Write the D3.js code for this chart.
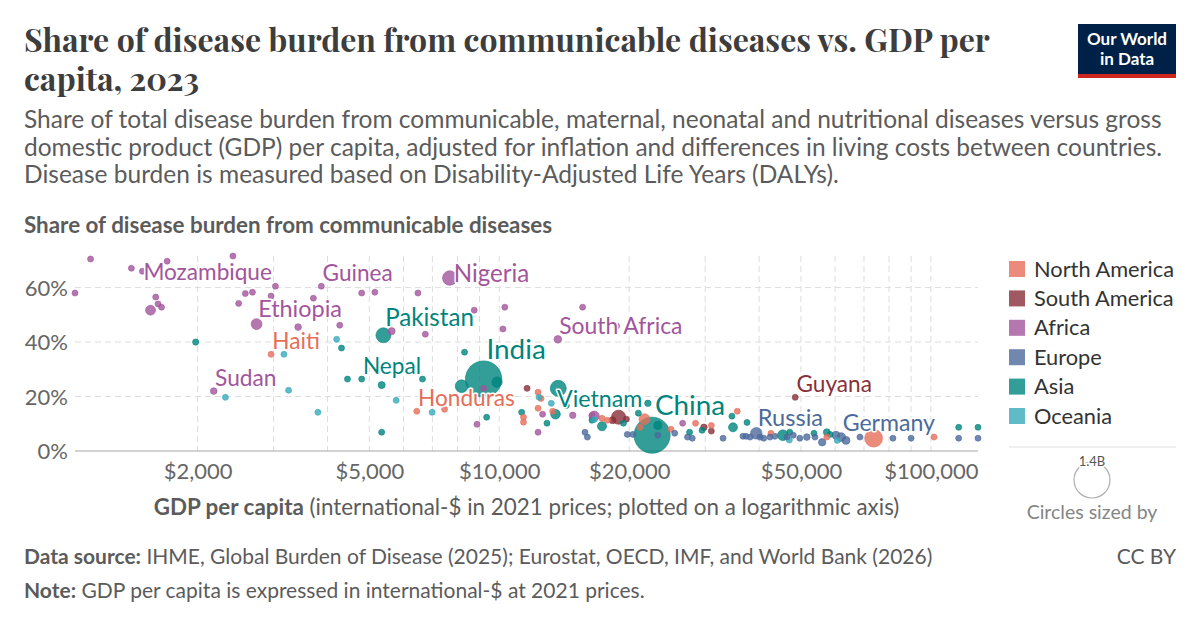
<!DOCTYPE html>
<html>
<head>
<meta charset="utf-8">
<script src="https://cdn.jsdelivr.net/npm/d3@7"></script>
<style>
  body { margin: 0; background: #fff; }
  svg { display: block; font-family: Lato, "Noto Sans", sans-serif; }
</style>
</head>
<body>
<svg width="1200" height="627"></svg>
<script>
// ---- data ----
var countries = ["Burundi","Central African Republic","Somalia","Mozambique","Niger","Chad","Madagascar","Democratic Republic of Congo","Malawi","Liberia",
  "Mali","Sierra Leone","Burkina Faso","Gambia","Guinea-Bissau","Ethiopia","Uganda","Afghanistan","Haiti","Solomon Islands",
  "Sudan","Kiribati","Vanuatu","Guinea","Togo","Benin","Cameroon","Zambia","Nigeria","Angola",
  "Cote d'Ivoire","Mauritania","Rwanda","Papua New Guinea","Yemen","Pakistan","Kenya","Senegal","East Timor","Tajikistan",
  "Nepal","Myanmar","Laos","Samoa","Micronesia","Honduras","Tonga","Nicaragua","Kyrgyzstan","Bangladesh",
  "India","Philippines","Ghana","Bolivia","Guatemala","Fiji","El Salvador","Cambodia","Belize","Jamaica",
  "Uzbekistan","Morocco","Tunisia","Gabon","South Africa","Botswana","Indonesia","Nauru","Dominica","Vietnam",
  "Namibia","Algeria","Mongolia","Cuba","Bhutan","Libya","Egypt","Marshall Islands","Sri Lanka","Saint Vincent and the Grenadines",
  "Iran","Ukraine","Moldova","Saint Lucia","Brazil","Colombia","Ecuador","Lebanon","Albania","Bosnia and Herzegovina",
  "Maldives","Mexico","Dominican Republic","China","Serbia","Thailand","Iraq","North Macedonia","Mauritius","Costa Rica",
  "Montenegro","Belarus","Barbados","Argentina","Antigua and Barbuda","Chile","Bulgaria","Turkmenistan","Trinidad and Tobago","Turkey",
  "Malaysia","Romania","Greece","Russia","Hungary","Croatia","Panama","Guyana","Japan","Kazakhstan",
  "Portugal","Spain","Israel","Italy","South Korea","Bahamas","United Kingdom","Australia","Germany","France",
  "Netherlands","United States","Denmark","Switzerland","Bermuda","Qatar","Norway","Singapore","Ireland","Latvia",
  "Poland","Estonia","Slovakia","Czechia","Slovenia","Georgia","Armenia","New Zealand","Saudi Arabia"];

var continents = ["Africa","Africa","Africa","Africa","Africa","Africa","Africa","Africa","Africa","Africa",
  "Africa","Africa","Africa","Africa","Africa","Africa","Africa","Asia","North America","Oceania",
  "Africa","Oceania","Oceania","Africa","Africa","Africa","Africa","Africa","Africa","Africa",
  "Africa","Africa","Africa","Oceania","Asia","Asia","Africa","Africa","Asia","Asia",
  "Asia","Asia","Asia","Oceania","Oceania","North America","Oceania","North America","Asia","Asia",
  "Asia","Asia","Africa","South America","North America","Oceania","North America","Asia","North America","North America",
  "Asia","Africa","Africa","Africa","Africa","Africa","Asia","Oceania","North America","Asia",
  "Africa","Africa","Asia","North America","Asia","Africa","Africa","Oceania","Asia","North America",
  "Asia","Europe","Europe","North America","South America","South America","South America","Asia","Europe","Europe",
  "Asia","North America","North America","Asia","Europe","Asia","Asia","Europe","Africa","North America",
  "Europe","Europe","North America","South America","North America","South America","Europe","Asia","North America","Asia",
  "Asia","Europe","Europe","Europe","Europe","Europe","North America","South America","Asia","Asia",
  "Europe","Europe","Asia","Europe","Asia","North America","Europe","Oceania","Europe","Europe",
  "Europe","North America","Europe","Europe","North America","Asia","Europe","Asia","Europe","Europe",
  "Europe","Europe","Europe","Europe","Europe","Asia","Asia","Oceania","Asia"];

// GDP per capita, international-$ (2021 prices)
var gdpPerCapita = [1040,1130,1405,1490,1700,2415,1600,1556,1620,1650,
  3030,2580,2680,2490,2960,2740,3420,1980,2960,3170,
  2180,2320,3250,3870,3710,4800,5150,6480,7680,8750,
  10300,10200,4270,4200,4310,5390,5630,6740,8310,4450,
  4800,5340,6640,3800,5770,6440,6990,7470,5340,8180,
  9200,9880,9200,11600,12300,12370,12300,11270,11380,11380,
  9350,8880,12300,15600,13670,18700,13700,13200,13300,13500,
  12600,14800,12900,12500,14300,16400,16600,16600,16400,17300,
  17300,15800,16000,17800,18900,18300,19700,19400,19800,20400,
  21000,21700,21200,22600,23300,23300,22100,25500,26600,25000,
  27300,28000,28500,29800,31000,31000,33000,34600,35600,34800,
  37500,36700,37300,39400,40200,41000,42600,48500,45400,47100,
  48000,51600,53600,56000,57400,57400,60300,60700,62000,63600,
  68500,73700,81700,90000,101700,116000,116000,128600,128600,42400,
  43500,46400,38100,49700,53900,29500,27600,47000,58400];

// share of DALYs from communicable, maternal, neonatal and nutritional diseases (%)
var diseaseShare = [58.0,70.5,67.1,66.0,69.7,71.6,56.5,51.7,54.0,52.8,
  60.5,57.8,58.3,54.2,56.9,46.6,45.5,40.0,35.5,35.5,
  22.0,19.7,22.3,60.5,56.1,58.0,58.3,58.0,63.5,51.7,
  52.8,44.8,46.2,41.0,37.8,42.5,44.0,42.9,36.3,26.4,
  26.4,24.2,26.4,14.2,18.6,14.6,14.2,15.3,6.9,23.8,
  26.4,25.3,23.0,23.0,21.6,19.7,15.7,14.2,12.4,10.6,
  12.4,9.8,6.9,52.8,41.0,45.9,23.0,17.5,14.6,13.5,
  13.5,13.1,10.2,19.3,16.7,13.1,12.8,11.6,11.3,12.0,
  9.1,6.9,5.1,11.3,12.4,11.3,11.7,10.2,6.1,6.1,
  13.9,11.7,8.7,5.8,5.8,9.4,17.5,6.5,10.2,8.0,
  5.1,4.7,10.2,8.7,9.4,7.3,4.7,12.8,14.6,8.7,
  10.5,5.4,5.4,6.5,5.1,4.7,6.5,19.7,5.8,6.9,
  5.8,5.1,6.5,3.2,6.9,5.1,5.8,3.9,5.1,3.9,
  5.1,4.7,4.7,4.7,5.1,8.7,4.7,8.7,4.7,5.1,
  5.4,5.1,5.1,4.7,5.1,7.6,6.9,4.0,6.1];

// population, millions
var populationM = [13,5.7,18,34,27,19,31,105,21,5.4,
  23,8.6,23,2.7,2.1,128,48,42,11.7,0.8,
  48,0.13,0.33,14,9,14,28,20,228,37,
  29,4.9,14,10,34,240,55,18,1.4,10,
  30,54,7.5,0.2,0.1,10.6,0.1,7,7,172,
  1430,115,34,12,18,0.9,6.3,17,0.4,2.8,
  35,37,12,2.4,63,2.6,278,0.01,0.07,100,
  2.6,45,3.4,11,0.8,7,112,0.04,22,0.1,
  89,38,2.5,0.18,216,52,18,5.4,2.8,3.2,
  0.5,128,11,1410,6.6,72,45,1.8,1.3,5.2,
  0.6,9.2,0.28,46,0.09,20,6.5,7,1.5,86,
  34,19,10,144,9.6,3.9,4.4,0.8,124,20,
  10,48,9.7,59,52,0.4,68,26,84,68,
  18,340,5.9,8.8,0.06,2.7,5.5,5.9,5.2,1.9,
  38,1.3,5.4,10.5,2.1,3.7,2.8,5.2,36];

var labelledCountries = ["Mozambique","Guinea","Nigeria","Ethiopia","Pakistan","Haiti","Nepal","India","Sudan",
  "Honduras","South Africa","Vietnam","China","Russia","Guyana","Germany"];

var legendItems = ["North America","South America","Africa","Europe","Asia","Oceania"];
var legendColors = ["#e56e5a","#883039","#a2559c","#4c6a9c","#00847e","#38aaba"];
var xTickValues = [2000, 5000, 10000, 20000, 50000, 100000];
var yTickValues = [0, 20, 40, 60];
var sizeLegendValue = 1400; // millions -> "1.4B"

// ---- build rows ----
var data = countries.map(function(c, i) {
    return { name: c, continent: continents[i], gdp: gdpPerCapita[i], share: diseaseShare[i], pop: populationM[i] };
});

var svg = d3.select("svg");

var color = d3.scaleOrdinal().domain(legendItems).range(legendColors);

var x = d3.scaleLog()
    .domain([d3.min(gdpPerCapita), d3.max(gdpPerCapita)])
    .range([75, 978]);

var y = d3.scaleLinear()
    .domain([0, d3.max(diseaseShare)])
    .range([451, 256]);

var r = d3.scaleSqrt().domain([0, 1400]).range([0, 18]);
var radius = function(d) { return Math.max(3, r(d.pop)); };

// ---- header ----
var title = svg.append("g")
    .attr("font-family", "'Playfair Display', 'Liberation Serif', serif")
    .attr("font-weight", 700)
    .attr("font-size", 32)
    .attr("fill", "#3d3d3d");
title.append("text").attr("x", 24).attr("y", 52)
    .text("Share of disease burden from communicable diseases vs. GDP per");
title.append("text").attr("x", 24).attr("y", 91)
    .text("capita, 2023");

var subtitle = ["Share of total disease burden from communicable, maternal, neonatal and nutritional diseases versus gross",
    "domestic product (GDP) per capita, adjusted for inflation and differences in living costs between countries.",
    "Disease burden is measured based on Disability-Adjusted Life Years (DALYs)."];
svg.append("g").selectAll("text")
    .data(subtitle)
    .join("text")
    .attr("x", 24)
    .attr("y", (d, i) => 128 + i * 27.5)
    .attr("font-size", 24.5)
    .attr("fill", "#5b5b5b")
    .text(d => d);

// logo
var logo = svg.append("g");
logo.append("rect").attr("x", 1078).attr("y", 24).attr("width", 98).attr("height", 54).attr("fill", "#002147");
logo.append("rect").attr("x", 1078).attr("y", 74).attr("width", 98).attr("height", 4).attr("fill", "#ce261e");
logo.append("text").attr("x", 1127).attr("y", 45).attr("text-anchor", "middle")
    .attr("fill", "#fff").attr("font-size", 17).attr("font-weight", 700).text("Our World");
logo.append("text").attr("x", 1127).attr("y", 65).attr("text-anchor", "middle")
    .attr("fill", "#fff").attr("font-size", 17).attr("font-weight", 700).text("in Data");

// y axis title
svg.append("text")
    .attr("x", 24).attr("y", 233)
    .attr("font-size", 22.4).attr("font-weight", 700).attr("fill", "#5b5b5b")
    .text("Share of disease burden from communicable diseases");

// ---- grid ----
var g = svg.append("g");

var gridX = [];
[1000, 10000, 100000].forEach(function(p) {
    for (var k = 1; k < 10; k++) {
        var v = k * p;
        if (v >= x.domain()[0] && v <= x.domain()[1]) gridX.push(v);
    }
});

g.append("g").selectAll("line")
    .data(gridX)
    .join("line")
    .attr("x1", d => x(d)).attr("x2", d => x(d))
    .attr("y1", y.range()[1]).attr("y2", y(0))
    .attr("stroke", "#dddddd").attr("stroke-dasharray", "6,4");

g.append("g").selectAll("line")
    .data(yTickValues.filter(d => d > 0))
    .join("line")
    .attr("x1", x.range()[0]).attr("x2", x.range()[1])
    .attr("y1", d => y(d)).attr("y2", d => y(d))
    .attr("stroke", "#dddddd").attr("stroke-dasharray", "6,4");

// axes
var xAxis = d3.axisBottom(x)
    .tickValues(xTickValues)
    .tickFormat(d => "$" + d3.format(",")(d))
    .tickSize(0)
    .tickPadding(12);

var yAxis = d3.axisLeft(y)
    .tickValues(yTickValues)
    .tickFormat(d => d + "%")
    .tickSize(0)
    .tickPadding(7);

var xg = g.append("g").attr("transform", "translate(0," + y(0) + ")").call(xAxis);
var yg = g.append("g").attr("transform", "translate(" + x.range()[0] + ",0)").call(yAxis);

g.selectAll(".domain").remove();
xg.selectAll(".tick text").attr("font-size", 22).attr("fill", "#666").attr("font-family", "Lato");
yg.selectAll(".tick text").attr("font-size", 22).attr("fill", "#666").attr("font-family", "Lato").attr("dy", "0.36em");

g.append("line")
    .attr("x1", x.range()[0]).attr("x2", x.range()[1])
    .attr("y1", y(0)).attr("y2", y(0))
    .attr("stroke", "#a5a5a5").attr("stroke-width", 1);

// x axis title
var xt = svg.append("text")
    .attr("x", (x.range()[0] + x.range()[1]) / 2).attr("y", 515)
    .attr("text-anchor", "middle")
    .attr("font-size", 22.4).attr("fill", "#5b5b5b");
xt.append("tspan").attr("font-weight", 700).text("GDP per capita");
xt.append("tspan").text(" (international-$ in 2021 prices; plotted on a logarithmic axis)");

// ---- bubbles ----
var sorted = data.slice().sort((a, b) => b.pop - a.pop);

g.append("g").selectAll("circle")
    .data(sorted)
    .join("circle")
    .attr("cx", d => x(d.gdp))
    .attr("cy", d => y(d.share))
    .attr("r", radius)
    .attr("fill", d => color(d.continent))
    .attr("fill-opacity", 0.8)
    .attr("stroke", d => color(d.continent))
    .attr("stroke-width", 0.6);

// ---- labels ----
var labelOffsets = { "Nigeria": [4, 4], "Mozambique": [1, 9] };

var labelData = data.filter(d => labelledCountries.indexOf(d.name) >= 0);
g.append("g").selectAll("text")
    .data(labelData)
    .join("text")
    .attr("x", d => x(d.gdp) + (labelOffsets[d.name] ? labelOffsets[d.name][0] : 1 + radius(d) * 0.1))
    .attr("y", d => y(d.share) + (labelOffsets[d.name] ? labelOffsets[d.name][1] : -radius(d) - 2))
    .attr("font-size", d => 22.6 + (radius(d) - 3) * 0.35)
    .attr("fill", d => color(d.continent))
    .attr("stroke", "#fff").attr("stroke-width", 3).attr("paint-order", "stroke")
    .attr("stroke-linejoin", "round")
    .text(d => d.name);

// ---- legend ----
var leg = svg.append("g").attr("transform", "translate(1009,261)");
var items = leg.selectAll("g")
    .data(legendItems)
    .join("g")
    .attr("transform", (d, i) => "translate(0," + (i * 29.4) + ")");
items.append("rect")
    .attr("width", 16).attr("height", 16)
    .attr("fill", d => color(d)).attr("fill-opacity", 0.8);
items.append("text")
    .attr("x", 25).attr("y", 15.5)
    .attr("font-size", 21.8).attr("fill", "#333")
    .text(d => d);

svg.append("line")
    .attr("x1", 1009).attr("x2", 1176).attr("y1", 447).attr("y2", 447)
    .attr("stroke", "#e0e0e0");

var sizeLeg = svg.append("g").attr("transform", "translate(1092,498)");
sizeLeg.append("circle")
    .attr("cx", 0).attr("cy", -r(sizeLegendValue))
    .attr("r", r(sizeLegendValue))
    .attr("fill", "none").attr("stroke", "#b0b0b0").attr("stroke-width", 1.2);
sizeLeg.append("text")
    .attr("x", 0).attr("y", -2 * r(sizeLegendValue) + 4)
    .attr("text-anchor", "middle").attr("font-size", 13).attr("fill", "#555")
    .attr("stroke", "#fff").attr("stroke-width", 3).attr("paint-order", "stroke")
    .text(d3.format(".2~s")(sizeLegendValue * 1e6).replace("G", "B"));
svg.append("text")
    .attr("x", 1092).attr("y", 519).attr("text-anchor", "middle")
    .attr("font-size", 19.5).attr("fill", "#858585")
    .text("Circles sized by");

// ---- footer ----
var f1 = svg.append("text").attr("x", 24).attr("y", 564).attr("font-size", 21).attr("fill", "#5b5b5b");
f1.append("tspan").attr("font-weight", 700).text("Data source:");
f1.append("tspan").text(" IHME, Global Burden of Disease (2025); Eurostat, OECD, IMF, and World Bank (2026)");
var f2 = svg.append("text").attr("x", 24).attr("y", 598).attr("font-size", 21).attr("fill", "#5b5b5b");
f2.append("tspan").attr("font-weight", 700).text("Note:");
f2.append("tspan").text(" GDP per capita is expressed in international-$ at 2021 prices.");
svg.append("text").attr("x", 1176).attr("y", 564).attr("text-anchor", "end")
    .attr("font-size", 21).attr("fill", "#5b5b5b").text("CC BY");
</script>
</body>
</html>
